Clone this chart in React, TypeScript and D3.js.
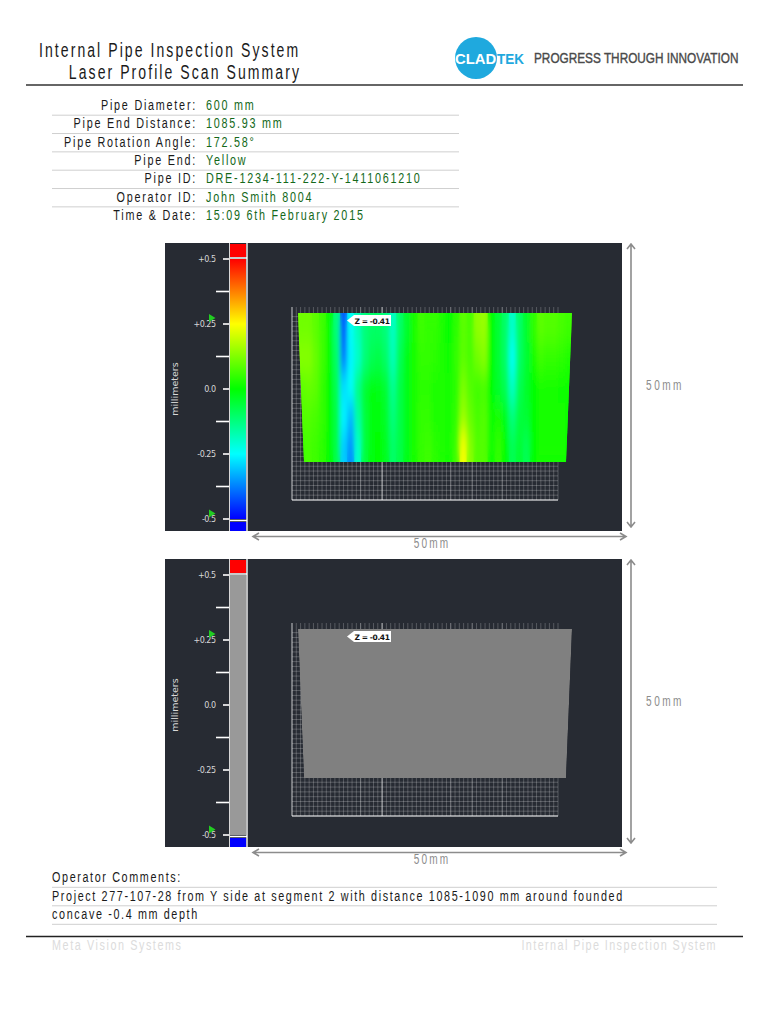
import React from 'react';
import { range, scaleBand, scaleLinear, line, interpolateRgb } from 'd3';

// values
const infoLabels = ['Pipe Diameter:', 'Pipe End Distance:', 'Pipe Rotation Angle:', 'Pipe End:', 'Pipe ID:', 'Operator ID:', 'Time & Date:'];
const infoValues = ['600 mm', '1085.93 mm', '172.58°', 'Yellow', 'DRE-1234-111-222-Y-1411061210', 'John Smith 8004', '15:09 6th February 2015'];
const comments = ['Project 277-107-28 from Y side at segment 2 with distance 1085-1090 mm around founded', 'concave -0.4 mm depth'];

const majorTicks = [0.5, 0.25, 0, -0.25, -0.5];
const majorLabels = ['+0.5', '+0.25', '0.0', '-0.25', '-0.5'];
const minorTicks = [0.375, 0.125, -0.125, -0.375];
const markerValues = [0.273, -0.479];
const rampValues = [0.5, 0.25, 0, -0.25, -0.5];
const rampColors = ['#ff0000', '#ffff00', '#00ff00', '#00ffff', '#0000ff'];

const rowTop = [.11, .11, .09, .06, .0, -.12, -.42, -.24, -.18, -.12, -.10, -.10, -.12, -.19, -.10, -.04, .02, .06, .05, .05, .03, .0, .04, .09, .07, .14, .15, .0, -.05, -.10, -.20, -.10, -.04, .04, .09, .08, .08, .07, .06];
const rowUpper = [.13, .13, .10, .06, .0, -.10, -.38, -.26, -.20, -.12, -.08, -.07, -.10, -.18, -.08, -.02, .02, .05, .05, .04, .03, .01, .05, .09, .07, .11, .13, .0, -.05, -.10, -.24, -.10, -.05, .02, .06, .05, .05, .04, .03];
const rowMiddle = [.09, .10, .09, .05, .0, -.08, -.28, -.24, -.13, -.05, -.01, -.02, -.05, -.14, -.07, -.02, .02, .04, .04, .03, .03, .02, .04, .12, .08, .06, .07, .0, -.04, -.08, -.19, -.08, -.04, .0, .02, .02, .02, .01, .01];
const rowLower = [.08, .08, .07, .05, .0, -.07, -.26, -.32, -.16, -.06, -.01, -.01, -.04, -.12, -.07, -.02, .02, .05, .05, .03, .03, .02, .05, .15, .10, .07, .08, .01, .02, -.02, -.12, -.06, -.05, .0, .02, .02, .02, .02, .01];
const rowBottom = [.06, .07, .06, .04, .0, -.07, -.30, -.36, -.20, -.06, -.01, .0, -.03, -.10, -.07, -.02, .02, .05, .06, .04, .03, .02, .06, .24, .13, .08, .08, .01, .05, .0, -.08, -.05, -.08, .0, .02, .02, .02, .02, .01];
const surfaceRows = [rowTop, rowUpper, rowMiddle, rowLower, rowBottom];

const font = '"Liberation Sans", sans-serif';
const uiFont = '"DejaVu Sans", Verdana, sans-serif';

const zScale = scaleLinear<string>().domain(rampValues).range(rampColors).interpolate(interpolateRgb);
const barY = scaleLinear().domain([-0.5, 0.5]).range([519, 259]);

const gridX = scaleLinear().domain([0, 62]).range([292, 558]);
const gridY = scaleLinear().domain([0, 40]).range([500, 307]);
const gridMajor = [0, 21];
const gridMedium = [16, 37, 42, 49];

const rowBand = scaleBand<number>().domain(range(surfaceRows.length)).range([313, 462]);
const colBand = scaleBand<number>().domain(range(rowTop.length)).range([298, 572]);
const outline = line()([[298, 313], [572, 313], [566, 462], [304, 462]]) + 'Z';

// the reference font is a condensed one with wide tracking
const Narrow: React.FC<{ x: number; y: number; size: number; fill: string; track: number; sx?: number; anchor?: string; bold?: boolean; children: React.ReactNode }> =
  ({ x, y, size, fill, track, sx, anchor, bold, children }) => (
    <text transform={`translate(${x}, ${y}) scale(${sx || 0.72}, 1)`} fontFamily={font} fontSize={size} fill={fill}
      fontWeight={bold ? 'bold' : 'normal'} letterSpacing={track} textAnchor={anchor || 'start'}>{children}</text>
  );

const Panel: React.FC<{ dy: number; id: string; gray?: boolean }> = ({ dy, id, gray }) => (
  <g transform={`translate(0, ${dy})`}>
    <rect x={165} y={243} width={457} height={288} fill="#272b33" />
    {/* grid behind the surface */}
    <g>
      {gridX.ticks(62).map((d) => (
        <line key={d} x1={gridX(d)} x2={gridX(d)} y1={gridY(40)} y2={gridY(0)}
          stroke="#fff" strokeOpacity={gridMajor.includes(d) ? 0.75 : gridMedium.includes(d) ? 0.5 : 0.28} strokeWidth={gridMajor.includes(d) ? 1 : 0.8} />
      ))}
      {gridY.ticks(40).filter((d) => d < 39).map((d) => (
        <line key={d} x1={gridX(0)} x2={gridX(62)} y1={gridY(d)} y2={gridY(d)}
          stroke="#fff" strokeOpacity={d === 0 ? 0.7 : 0.28} strokeWidth={d === 0 ? 1.4 : 0.8} />
      ))}
    </g>
    {/* surface */}
    <clipPath id={`clip-${id}`}><path d={outline} /></clipPath>
    <filter id={`blur-${id}`} x="-10%" y="-30%" width="120%" height="160%">
      <feGaussianBlur stdDeviation="2.2 11" />
    </filter>
    <g clipPath={`url(#clip-${id})`}>
      {gray ? (
        <path d={outline} fill="#808080" />
      ) : (
        <>
          {[false, true].map((blurred) => (
            <g key={String(blurred)} filter={blurred ? `url(#blur-${id})` : undefined}>
              {surfaceRows.map((row, r) => row.map((v, c) => (
                <rect key={c} x={colBand(c)} y={rowBand(r)} width={colBand.bandwidth() + 0.5} height={rowBand.bandwidth() + 0.5} fill={zScale(v)} />
              )))}
            </g>
          ))}
        </>
      )}
    </g>
    {/* colour bar */}
    <linearGradient id={`ramp-${id}`} x1="0" x2="0" y1="0" y2="1">
      {rampValues.map((v, i) => (
        <stop key={v} offset={i / (rampValues.length - 1)} stopColor={gray ? '#999999' : rampColors[i]} />
      ))}
    </linearGradient>
    <rect x={230} y={barY(0.5)} width={16} height={barY(-0.5) - barY(0.5)} fill={`url(#ramp-${id})`} />
    <rect x={230} y={244} width={16} height={barY(0.5) - 246} fill="#ff0000" />
    <rect x={230} y={barY(-0.5) + 3} width={16} height={9} fill="#0000ff" />
    <line x1={229.5} x2={229.5} y1={243} y2={531} stroke="#d8d8d8" />
    <line x1={247} x2={247} y1={243} y2={531} stroke="#eeeeee" strokeWidth={1.5} />
    <line x1={230} x2={247} y1={barY(0.5) - 1} y2={barY(0.5) - 1} stroke="#fff" strokeWidth={1.5} />
    <line x1={230} x2={247} y1={barY(-0.5) + 1.5} y2={barY(-0.5) + 1.5} stroke="#fff" strokeWidth={1.5} />
    {/* axis */}
    {majorTicks.map((t, i) => (
      <g key={t}>
        <line x1={223} x2={229} y1={barY(t)} y2={barY(t)} stroke="#fff" strokeWidth={1.6} />
        <text x={215.5} y={barY(t) + 3} textAnchor="end" fontFamily={uiFont} fontSize={8} fill="#d8d8d8" letterSpacing={-0.5}>{majorLabels[i]}</text>
      </g>
    ))}
    {minorTicks.map((t) => (
      <line key={t} x1={216} x2={229} y1={barY(t)} y2={barY(t)} stroke="#fff" strokeWidth={1.6} />
    ))}
    {markerValues.map((v) => (
      <path key={v} d="M-3,-4L3.5,0L-3,4Z" transform={`translate(212, ${barY(v)})`} fill="#22cc22" />
    ))}
    <text transform={`translate(178, ${barY(0)}) rotate(-90)`} textAnchor="middle" fontFamily={uiFont} fontSize={9.5} fill="#d8d8d8">millimeters</text>
    {/* callout */}
    <path d="M347,320.5L354,315H391V326H354Z" fill="#fff" />
    <text x={372} y={323.5} textAnchor="middle" fontFamily={uiFont} fontSize={7.5} fontWeight="bold" fill="#111" letterSpacing={-0.4}>Z = -0.41</text>
    {/* dimensions */}
    <path d="M631,245V526M627,249L631,244L635,249M627,522L631,527L635,522" fill="none" stroke="#8c8c8c" strokeWidth={1.6} />
    <path d="M254,536.5H625M259,533L253,536.5L259,540M620,533L626,536.5L620,540" fill="none" stroke="#8c8c8c" strokeWidth={1.6} />
    <Narrow x={665} y={390} size={14} fill="#8c8c8c" track={3.4} anchor="middle">50mm</Narrow>
    <Narrow x={432} y={548} size={14} fill="#8c8c8c" track={3} anchor="middle">50mm</Narrow>
  </g>
);

export default function App() {
  const infoY = scaleLinear().domain([0, infoLabels.length - 1]).range([110, 220]);
  const commentY = scaleLinear().domain([0, 2]).range([882, 919]);
  return (
    <svg width={768} height={1024} style={{ position: 'absolute', left: 0, top: 0, background: '#fff' }}>
      {/* header */}
      <Narrow x={39} y={57} size={19.5} fill="#1a1a1a" track={2.86}>Internal Pipe Inspection System</Narrow>
      <Narrow x={301} y={79} size={19.5} fill="#1a1a1a" track={2.86} anchor="end">Laser Profile Scan Summary</Narrow>
      <circle cx={476} cy={58} r={21} fill="#1fa9de" />
      <Narrow x={455} y={64} size={15} fill="#fff" track={0} sx={0.99} bold>CLAD</Narrow>
      <Narrow x={497} y={64} size={15} fill="#1fa9de" track={0} sx={0.9} bold>TEK</Narrow>
      <g stroke="#4a4a4a" strokeWidth={0.4}>
        <Narrow x={534} y={63} size={15} fill="#4a4a4a" track={0} sx={0.787}>PROGRESS THROUGH INNOVATION</Narrow>
      </g>
      <line x1={26} x2={743} y1={85} y2={85} stroke="#333" strokeWidth={1.3} />

      {/* info table */}
      {infoLabels.map((label, i) => (
        <g key={label}>
          <Narrow x={197} y={infoY(i)} size={15} fill="#1a1a1a" track={2.45} anchor="end">{label}</Narrow>
          <Narrow x={206} y={infoY(i)} size={15} fill="#14691a" track={2.45}>{infoValues[i]}</Narrow>
          {i < infoLabels.length - 1 && (
            <line x1={52} x2={459} y1={infoY(i) + 5.2} y2={infoY(i) + 5.2} stroke="#cfcfcf" />
          )}
        </g>
      ))}

      <Panel dy={0} id="color" />
      <Panel dy={316} id="gray" gray />

      {/* comments */}
      <Narrow x={52} y={commentY(0)} size={15} fill="#1a1a1a" track={2.26}>Operator Comments:</Narrow>
      {comments.map((c, i) => (
        <Narrow key={c} x={52} y={commentY(i + 1)} size={15} fill="#1a1a1a" track={2.26}>{c}</Narrow>
      ))}
      {range(3).map((i) => (
        <line key={i} x1={52} x2={717} y1={commentY(i) + 5.3} y2={commentY(i) + 5.3} stroke="#cfcfcf" />
      ))}

      {/* footer */}
      <line x1={26} x2={743} y1={936.5} y2={936.5} stroke="#222" strokeWidth={1.3} />
      <Narrow x={52} y={950} size={15} fill="#dcdcdc" track={2.2}>Meta Vision Systems</Narrow>
      <Narrow x={717} y={950} size={15} fill="#dcdcdc" track={1.97} anchor="end">Internal Pipe Inspection System</Narrow>
    </svg>
  );
}
